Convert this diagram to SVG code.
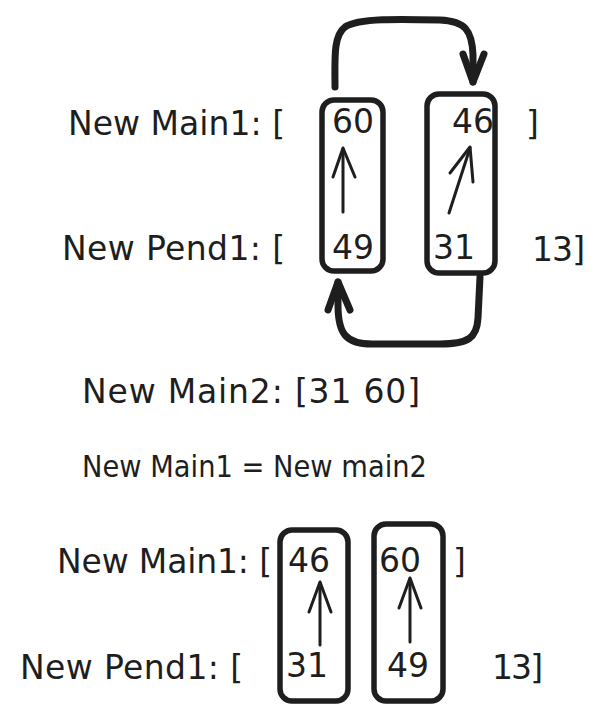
<svg xmlns="http://www.w3.org/2000/svg" width="605" height="725" viewBox="0 0 605 725">
<style>
text{font-family:"DejaVu Sans","Liberation Sans",sans-serif;font-size:33px;fill:#1e1e1e}
.box{fill:none;stroke:#1e1e1e;stroke-width:5.5;stroke-linejoin:round}
.thick{fill:none;stroke:#1e1e1e;stroke-width:7;stroke-linecap:round;stroke-linejoin:round}
.thin{fill:none;stroke:#1e1e1e;stroke-width:3;stroke-linecap:round;stroke-linejoin:round}
</style>
<rect width="605" height="725" fill="#ffffff"/>
<g id="labels">
<text x="68" y="135" textLength="217">New Main1: [</text>
<text x="62" y="260" textLength="223">New Pend1: [</text>
<text x="526" y="135">]</text>
<text x="532" y="261" textLength="53">13]</text>
<text x="82" y="403" textLength="338">New Main2: [31 60]</text>
<text x="82" y="477" textLength="345" lengthAdjust="spacingAndGlyphs" style="font-size:31px">New Main1 = New main2</text>
<text x="57" y="573" textLength="215">New Main1: [</text>
<text x="20" y="679" textLength="223">New Pend1: [</text>
<text x="453" y="573">]</text>
<text x="492" y="679" textLength="51">13]</text>
</g>
<g id="box1">
<rect class="box" x="322" y="100" width="61" height="171" rx="12"/>
<text x="332" y="133">60</text>
<text x="332" y="259">49</text>
</g>
<g id="box2">
<rect class="box" x="427" y="94" width="68" height="179" rx="12"/>
<text x="452" y="133">46</text>
<text x="433" y="259">31</text>
</g>
<g id="box3">
<rect class="box" x="280" y="530" width="68" height="171" rx="12"/>
<text x="288" y="572">46</text>
<text x="286" y="677">31</text>
</g>
<g id="box4">
<rect class="box" x="374" y="524" width="69" height="177" rx="12"/>
<text x="379" y="572">60</text>
<text x="387" y="677">49</text>
</g>
<g id="connectors">
<path class="thick" d="M335,87 C335,60 333,36 345,27 C358,18 400,19 440,20 C465,21 472,30 473,55 L473,82"/>
<polyline class="thick" points="463,54 473,82 484,54"/>
<path class="thick" d="M480,277 L478,318 C477,338 468,344 440,344 L372,344 C346,344 338,334 338,305 L338,282"/>
<polyline class="thick" points="328,310 338,282 350,310"/>
<path class="thin" d="M343,212 L343,149"/>
<polyline class="thin" points="333,177 343,148 355,177"/>
<path class="thin" d="M449,213 L470,148"/>
<polyline class="thin" points="450,173 470,147 473,182"/>
<path class="thin" d="M320,645 L320,583"/>
<polyline class="thin" points="309,612 320,582 331,612"/>
<path class="thin" d="M410,642 L410,579"/>
<polyline class="thin" points="399,608 410,578 421,608"/>
</g>
</svg>
